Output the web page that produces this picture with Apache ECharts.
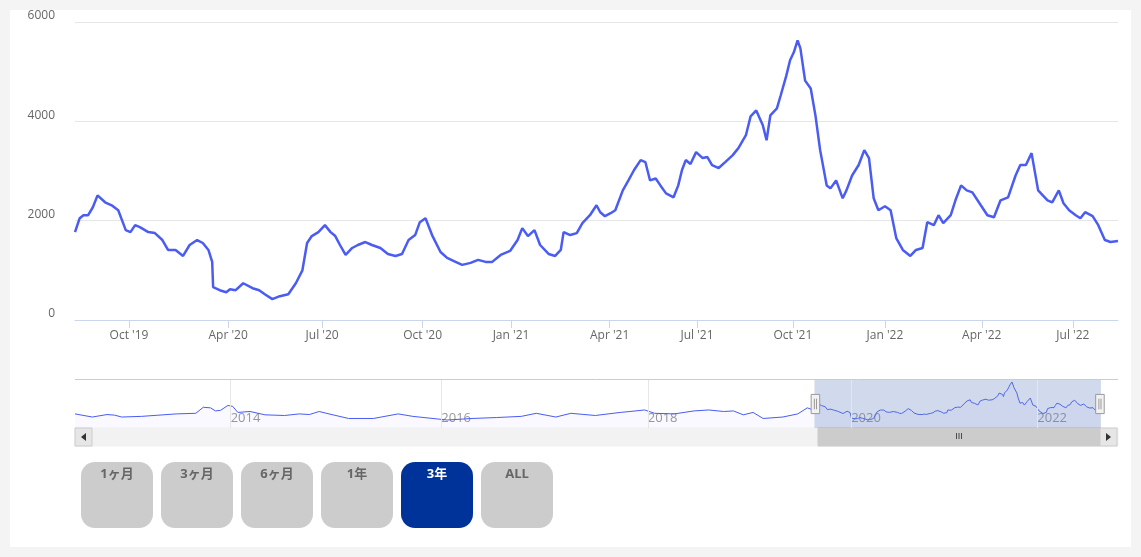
<!DOCTYPE html>
<html><head><meta charset="utf-8">
<script src="https://cdn.jsdelivr.net/npm/echarts@6/dist/echarts.min.js"></script>
<style>html,body{margin:0;padding:0;background:#f4f4f4}#chart{width:1141px;height:557px}</style>
</head><body><div id="chart"></div>
<script>
// The axis is ordinal (trading-day positions, gaps removed), so x values are ordinal positions.
// older history, only visible in the navigator
var histPos = [-2861,-2794,-2737,-2708,-2680,-2603,-2469,-2393,-2364,-2336,-2317,-2297,-2269,-2250,-2230,-2183,-2125,-2049,-1992,-1953,-1915,-1877,-1801,-1705,-1609,-1552,-1418,-1323,-1227,-1132,-1074,-998,-940,-845,-749,-711,-654,-616,-539,-463,-406,-348,-310,-272,-234,-195,-119,-61,-24];
var histValues = [1240,810,1150,1070,810,900,1240,1320,2150,2070,1650,1730,2400,2275,1440,1570,1110,1020,1240,1150,1570,1240,610,610,1240,900,400,610,740,900,1320,810,1320,1020,1440,1570,1780,1320,1240,1650,1780,1570,1650,1110,1440,610,810,1240,2070];

// last three years
var recentPos = [0,5,9,14,19,24,32,39,46,50,54,59,64,69,78,85,93,99,107,115,122,130,136,142,146,147,154,161,165,171,179,189,196,202,210,218,227,235,242,247,252,259,266,272,277,282,288,295,301,309,316,325,333,341,348,355,362,367,373,380,389,396,405,412,421,429,437,444,453,463,471,476,482,489,495,504,511,517,520,527,534,540,548,555,559,564,570,575,583,589,595,602,607,612,618,623,629,637,642,646,650,655,661,668,673,678,685,692,700,706,714,719,725,732,736,740,747,751,757,761,765,769,772,777,783,788,793,800,804,810,817,821,827,834,840,845,850,855,862,868,874,881,889,895,902,907,914,919,924,932,937,943,949,955,964,971,978,985,993,1001,1006,1012,1018,1025,1030,1035,1040,1047,1052,1058,1065,1070,1075,1083,1089,1096,1102,1110];
var recentValues = [1770,2050,2110,2110,2270,2510,2370,2310,2210,2010,1810,1770,1910,1870,1770,1750,1610,1410,1410,1290,1510,1610,1550,1410,1170,660,600,560,620,600,740,640,600,520,420,480,520,740,1000,1550,1690,1770,1910,1770,1690,1510,1310,1450,1510,1570,1510,1450,1330,1290,1330,1610,1710,1970,2050,1710,1370,1250,1170,1110,1150,1210,1170,1170,1310,1390,1610,1850,1690,1810,1510,1330,1290,1410,1770,1710,1750,1950,2110,2310,2170,2090,2150,2210,2610,2810,3020,3220,3180,2810,2850,2710,2550,2470,2710,3020,3220,3140,3380,3260,3280,3120,3060,3180,3320,3460,3720,4100,4220,3920,3620,4120,4260,4520,4920,5230,5390,5630,5470,4820,4660,4120,3420,2710,2650,2810,2450,2610,2910,3120,3420,3260,2450,2210,2290,2210,1650,1410,1290,1410,1450,1970,1910,2110,1950,2110,2410,2710,2610,2570,2310,2110,2070,2410,2470,2910,3120,3120,3360,2610,2510,2410,2370,2610,2350,2210,2110,2050,2170,2090,1910,1610,1570,1590];

var tickPos = [57.5,163,263,370,464,569,662,764,862,965,1062];
var tickLabels = ["Oct '19","Apr '20","Jul '20","Oct '20","Jan '21","Apr '21","Jul '21","Oct '21","Jan '22","Apr '22","Jul '22"];
var yearPos = [-2258,-1442,-642,146,867];
var yearLabels = ['2014','2016','2018','2020','2022'];
var buttonLabels = ['1ヶ月','3ヶ月','6ヶ月','1年','3年','ALL'];
var selectedButton = '3年';

var data = [];
for (var i = 0; i < histPos.length; i++) data.push([histPos[i], histValues[i]]);
for (var j = 0; j < recentPos.length; j++) data.push([recentPos[j], recentValues[j]]);
var firstPos = recentPos[0], lastPos = recentPos[recentPos.length - 1];

var font = '"Open Sans", "Noto Sans CJK JP", sans-serif';

var graphics = [
    {type:'rect', z:-10, shape:{x:10,y:10,width:1121,height:537}, style:{fill:'#fff'}},
    {type:'line', shape:{x1:75,y1:379.5,x2:1118,y2:379.5}, style:{stroke:'#cccccc',lineWidth:1}},
    // scrollbar
    {type:'rect', shape:{x:75,y:428,width:1043,height:18}, style:{fill:'#f2f2f2',stroke:'#f2f2f2'}},
    {type:'rect', shape:{x:818,y:428,width:282,height:18}, style:{fill:'#cccccc',stroke:'#cccccc'}},
    {type:'text', style:{x:959,y:437,text:'III',fill:'#333',font:'9px sans-serif',align:'center',verticalAlign:'middle'}},
    {type:'rect', shape:{x:75,y:428,width:17,height:18}, style:{fill:'#e6e6e6',stroke:'#cccccc'}},
    {type:'polygon', shape:{points:[[86,433],[86,441],[81,437]]}, style:{fill:'#333'}},
    {type:'rect', shape:{x:1100,y:428,width:17,height:18}, style:{fill:'#e6e6e6',stroke:'#cccccc'}},
    {type:'polygon', shape:{points:[[1106,433],[1106,441],[1111,437]]}, style:{fill:'#333'}}
];
buttonLabels.forEach(function (lab, k) {
    var sel = lab === selectedButton;
    graphics.push({type:'rect', shape:{x:81 + k * 80, y:462, width:72, height:66, r:14},
        style:{fill: sel ? '#003399' : '#cccccc'}});
    graphics.push({type:'text', style:{x:117 + k * 80, y:474, text:lab, align:'center', verticalAlign:'middle',
        fill: sel ? '#fff' : '#666', font:'bold 13px ' + font}});
});

var chart = echarts.init(document.getElementById('chart'));
chart.setOption({
    backgroundColor: 'transparent',
    animation: false,
    graphic: graphics,
    grid: [
        {left:75, right:23, top:22, height:298},
        {left:75, right:41, top:380, height:48}
    ],
    xAxis: [{
        type:'value', gridIndex:0, min:'dataMin', max:'dataMax',
        axisLine:{lineStyle:{color:'#ccd6eb'}},
        axisTick:{show:true, length:8, lineStyle:{color:'#ccd6eb'}, customValues:tickPos},
        splitLine:{show:false},
        axisLabel:{color:'#666', fontSize:12, fontFamily:font, margin:10, customValues:tickPos,
            formatter:function (v) { var k = tickPos.indexOf(v); return k >= 0 ? tickLabels[k] : ''; }}
    }, {
        type:'value', gridIndex:1, min:'dataMin', max:'dataMax',
        axisLine:{show:false}, axisTick:{show:false}, splitLine:{show:false},
        axisLabel:{inside:true, align:'left', margin:3, color:'#999', fontSize:13, fontFamily:font,
            customValues:yearPos,
            formatter:function (v) { var k = yearPos.indexOf(v); return k >= 0 ? yearLabels[k] : ''; }}
    }],
    yAxis: [{
        type:'value', gridIndex:0, min:0, max:6000, interval:2000,
        axisLine:{show:false}, axisTick:{show:false},
        axisLabel:{color:'#666', fontSize:12, fontFamily:font, verticalAlign:'bottom', margin:20,
            formatter:function (v) { return String(v); }},
        splitLine:{lineStyle:{color:'#e6e6e6'}}
    }, {
        type:'value', gridIndex:1, min:-700, max:5900, show:false
    }],
    dataZoom: [{
        type:'slider', xAxisIndex:[0], left:75, right:41, top:380, height:48,
        startValue: firstPos, endValue: lastPos, filterMode:'filter',
        showDataShadow:false, showDetail:false, brushSelect:false,
        backgroundColor:'rgba(0,0,0,0)', borderColor:'rgba(0,0,0,0)',
        fillerColor:'rgba(102,133,194,0.3)',
        handleIcon:'path://M0,0 h8 v18 h-8 Z M3,4 v10 M5,4 v10',
        handleSize:'40%', handleStyle:{color:'#f2f2f2', borderColor:'#999'},
        moveHandleSize:0, labelFormatter:function(){return '';}
    }],
    series: [{
        type:'line', xAxisIndex:0, yAxisIndex:0, data:data, showSymbol:false,
        lineStyle:{color:'#4a5cf2', width:2.5}, itemStyle:{color:'#4a5cf2'}
    }, {
        type:'line', xAxisIndex:1, yAxisIndex:1, data:data, showSymbol:false, silent:true,
        lineStyle:{color:'#4a5cf2', width:1}, areaStyle:{color:'rgba(74,92,242,0.05)', origin:'start'},
        markLine:{symbol:'none', silent:true, label:{show:false},
            lineStyle:{color:'#e6e6e6', type:'solid', width:1},
            data: yearPos.map(function (p) { return {xAxis:p}; })}
    }]
});
</script></body></html>
